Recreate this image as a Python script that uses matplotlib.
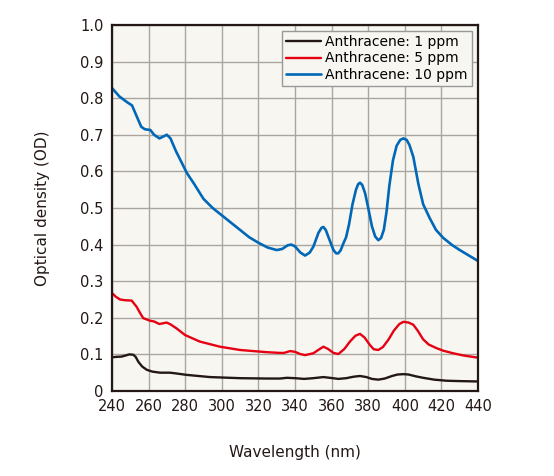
import matplotlib.pyplot as plt

# wavelengths (nm) and optical density
wl_10 = [240, 244, 248, 251, 254, 256, 258, 261, 263, 266, 268, 270, 272, 275, 278, 281,
         285, 290, 295, 300, 305, 310, 315, 320, 325, 330, 333, 336, 338, 340, 343, 345.5,
         348, 350, 352.8, 354.5, 355.5, 356.8, 358.3, 361, 362.5, 363.6, 365, 366.4, 367.9,
         369.5, 371.4, 373.3, 374.5, 375.5, 376.7, 378.3, 380.2, 382, 383.8, 385.5, 387,
         388.5, 390, 391.5, 393.5, 395.5, 397.5, 399.2, 401, 402.5, 404.6, 407.4, 410, 413.6,
         417, 421, 426, 430, 435, 440]
od_10 = [0.828, 0.805, 0.79, 0.78, 0.745, 0.722, 0.715, 0.713, 0.70, 0.69, 0.695, 0.70, 0.69,
         0.655, 0.625, 0.595, 0.565, 0.525, 0.50, 0.48, 0.46, 0.44, 0.42, 0.405, 0.392, 0.385,
         0.388, 0.398, 0.40, 0.395, 0.378, 0.37, 0.378, 0.394, 0.432, 0.446, 0.448, 0.44, 0.42,
         0.385, 0.376, 0.376, 0.385, 0.403, 0.42, 0.455, 0.51, 0.55, 0.565, 0.569, 0.563, 0.54,
         0.495, 0.45, 0.422, 0.412, 0.418, 0.44, 0.49, 0.56, 0.63, 0.67, 0.686, 0.69, 0.686,
         0.672, 0.64, 0.565, 0.51, 0.472, 0.44, 0.418, 0.398, 0.385, 0.37, 0.355]

wl_5 = [240, 242, 244.4, 247, 250.8, 253.5, 255.5, 257.1, 260.8, 263, 265.9, 268, 269.9, 272,
        275.3, 279.9, 288, 299, 310, 324.6, 331.8, 334, 337.3, 340, 342.8, 345.5, 350, 353,
        355.5, 358, 361, 363.7, 367, 370, 373, 375.5, 378, 381, 383, 385.5, 388, 391, 394,
        397, 399.2, 402, 404.6, 407, 410, 413, 417.3, 421, 426.4, 432, 440]
od_5 = [0.268, 0.258, 0.25, 0.248, 0.247, 0.23, 0.212, 0.199, 0.192, 0.19, 0.183, 0.185, 0.187,
        0.182, 0.171, 0.153, 0.135, 0.121, 0.112, 0.106, 0.104, 0.104, 0.109, 0.107, 0.101,
        0.098, 0.103, 0.113, 0.121, 0.115, 0.104, 0.101, 0.115, 0.135, 0.151, 0.156, 0.146,
        0.125, 0.114, 0.112, 0.12, 0.14, 0.165, 0.183, 0.189, 0.187, 0.181, 0.165, 0.141, 0.127,
        0.117, 0.11, 0.103, 0.097, 0.091]

wl_1 = [240, 242, 245.3, 247.5, 249.5, 251.7, 253, 254.4, 256.5, 259, 262, 266.3, 271.7, 275,
        280.8, 293.6, 310, 324.6, 331.8, 335.6, 340, 345, 350, 355.5, 359, 363.7, 368, 372,
        375.5, 379, 382, 385.5, 389, 393, 396, 399.2, 402, 406, 410, 416, 422.8, 430, 440]
od_1 = [0.092, 0.093, 0.094, 0.097, 0.1, 0.099, 0.093, 0.08, 0.067, 0.058, 0.053, 0.05, 0.05,
        0.048, 0.044, 0.038, 0.035, 0.034, 0.034, 0.036, 0.035, 0.033, 0.035, 0.038, 0.036,
        0.033, 0.035, 0.039, 0.041, 0.038, 0.033, 0.031, 0.034, 0.041, 0.045, 0.046, 0.045,
        0.04, 0.036, 0.031, 0.028, 0.027, 0.026]

x_ticks = [240, 260, 280, 300, 320, 340, 360, 380, 400, 420, 440]
y_ticks = [0, 0.1, 0.2, 0.3, 0.4, 0.5, 0.6, 0.7, 0.8, 0.9, 1.0]
y_labels = ['0', '0.1', '0.2', '0.3', '0.4', '0.5', '0.6', '0.7', '0.8', '0.9', '1.0']

fig = plt.figure(figsize=(5.54, 4.76), dpi=100)
ax = fig.add_axes([0.202, 0.1786, 0.661, 0.769])
ax.set_facecolor('#f7f6f1')

line_kw = dict(solid_joinstyle='round', solid_capstyle='round')
ax.plot(wl_1, od_1, color='#231815', lw=1.7, label='Anthracene: 1 ppm', **line_kw)
ax.plot(wl_5, od_5, color='#e60012', lw=1.7, label='Anthracene: 5 ppm', **line_kw)
ax.plot(wl_10, od_10, color='#0068b7', lw=1.9, label='Anthracene: 10 ppm', **line_kw)

ax.set_xlim(240, 440)
ax.set_ylim(0, 1.0)
ax.set_xticks(x_ticks)
ax.set_yticks(y_ticks)
ax.set_yticklabels(y_labels)
ax.tick_params(length=0, labelsize=10.5, colors='#231815', pad=6)
ax.grid(True, color='#aaa69f', lw=1)
ax.set_axisbelow(True)
for s in ax.spines.values():
    s.set_color('#231815')
    s.set_linewidth(1.6)

ax.set_xlabel('Wavelength (nm)', fontsize=11, labelpad=22, color='#231815')
ax.set_ylabel('Optical density (OD)', fontsize=11, labelpad=22, color='#231815')

leg = ax.legend(loc='upper right', fontsize=10, handlelength=2.5, handletextpad=0.3,
                borderpad=0.3, labelspacing=0.15, fancybox=False, framealpha=1,
                borderaxespad=0.45)
leg.get_frame().set_edgecolor('#999999')
leg.get_frame().set_facecolor('#f7f6f1')
leg.get_frame().set_linewidth(1)

fig.savefig('out.png', dpi=100)
